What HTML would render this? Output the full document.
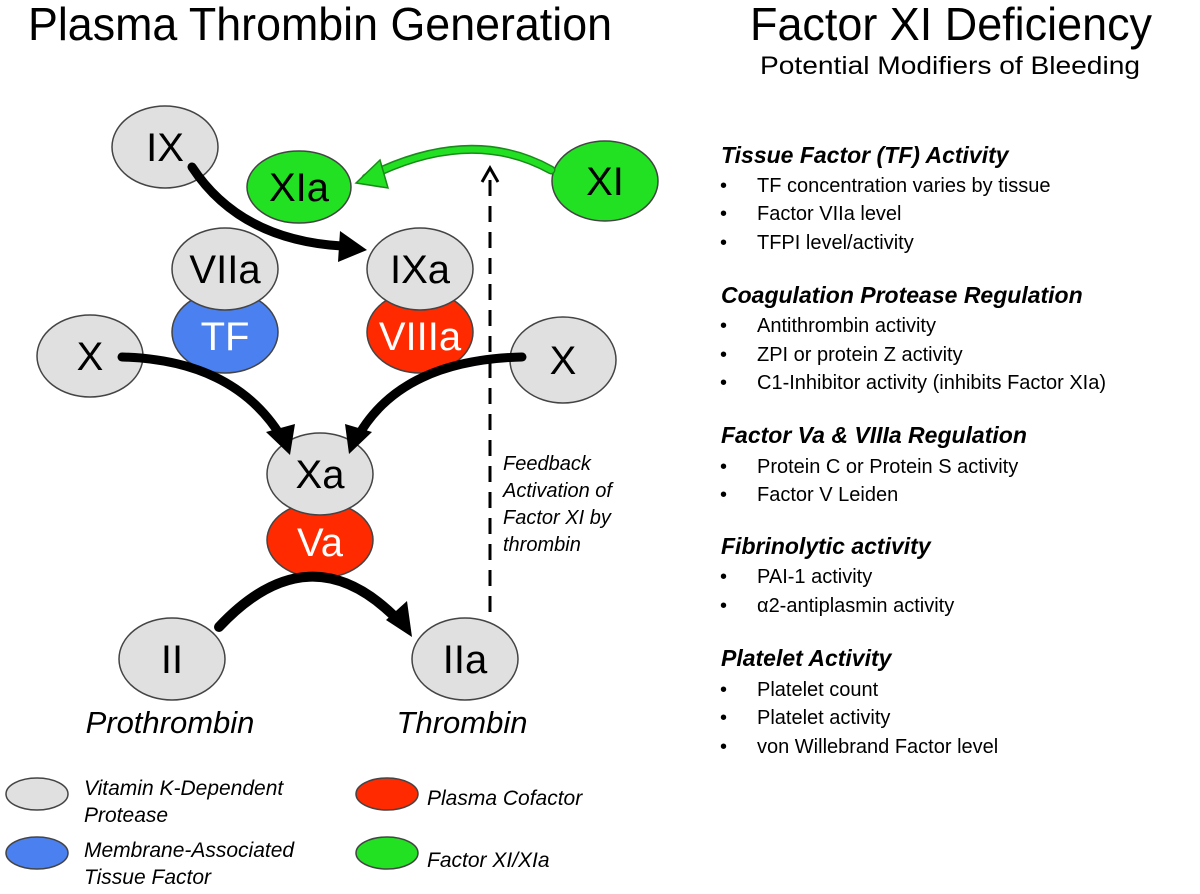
<!DOCTYPE html>
<html><head><meta charset="utf-8"><style>
html,body{margin:0;padding:0;background:#fff;}
svg{display:block;font-family:"Liberation Sans Narrow","Liberation Sans",sans-serif;}
.n{font-size:40px;text-anchor:middle;}
.r{font-family:"Liberation Sans",sans-serif;font-size:20px;}
.h{font-family:"Liberation Sans",sans-serif;font-size:23px;font-weight:bold;font-style:italic;}
.i{font-style:italic;}
</style></head><body>
<svg width="1200" height="894" viewBox="0 0 1200 894" xmlns="http://www.w3.org/2000/svg">
<text x="28" y="40" font-size="46" textLength="584" lengthAdjust="spacingAndGlyphs">Plasma Thrombin Generation</text>
<text x="750" y="40" font-size="46" textLength="402" lengthAdjust="spacingAndGlyphs">Factor XI Deficiency</text>
<text x="760" y="74" font-size="25" textLength="380" lengthAdjust="spacingAndGlyphs">Potential Modifiers of Bleeding</text>

<g stroke="#444" stroke-width="1.5">
<ellipse cx="165" cy="147" rx="53" ry="41" fill="#e0e0e0"/>
<ellipse cx="299" cy="187" rx="52" ry="36" fill="#22e022"/>
<ellipse cx="605" cy="181" rx="53" ry="40" fill="#22e022"/>
<ellipse cx="225" cy="332" rx="53" ry="41" fill="#4a80f0"/>
<ellipse cx="225" cy="269" rx="53" ry="41" fill="#e0e0e0"/>
<ellipse cx="420" cy="332" rx="53" ry="41" fill="#ff2a00"/>
<ellipse cx="420" cy="269" rx="53" ry="41" fill="#e0e0e0"/>
<ellipse cx="90" cy="356" rx="53" ry="41" fill="#e0e0e0"/>
<ellipse cx="563" cy="360" rx="53" ry="43" fill="#e0e0e0"/>
<ellipse cx="320" cy="540" rx="53" ry="38" fill="#ff2a00"/>
<ellipse cx="320" cy="474" rx="53" ry="41" fill="#e0e0e0"/>
<ellipse cx="172" cy="659" rx="53" ry="41" fill="#e0e0e0"/>
<ellipse cx="465" cy="659" rx="53" ry="41" fill="#e0e0e0"/>
</g>

<!-- arrows -->
<g fill="none" stroke="#000" stroke-linecap="round">
<path d="M192 167 Q 240 240 342 246" stroke-width="9"/>
<path d="M122 357 Q 235 360 282 438" stroke-width="9"/>
<path d="M522 357 Q 400 360 357 438" stroke-width="9"/>
<path d="M219 627 Q 310 530 398 620" stroke-width="10"/>
</g>
<g fill="#000">
<polygon points="367,250 340,231 338,262"/>
<polygon points="290,455 266,432 295,424"/>
<polygon points="349,454 345,424 372,432"/>
<polygon points="412,637 386,620 407,601"/>
</g>
<path d="M551 170 Q 470 125 366 178" fill="none" stroke="#1a8a1a" stroke-width="9" stroke-linecap="round"/>
<path d="M551 170 Q 470 125 366 178" fill="none" stroke="#22e022" stroke-width="6" stroke-linecap="round"/>
<polygon points="356,183 380,160 388,188" fill="#22e022" stroke="#1a8a1a" stroke-width="1.5"/>

<line x1="490" y1="612" x2="490" y2="172" stroke="#000" stroke-width="3" stroke-dasharray="16,10"/>
<polyline points="482,182 490,168 498,182" fill="none" stroke="#000" stroke-width="3"/>

<g class="n">
<text x="165" y="161">IX</text>
<text x="299" y="201">XIa</text>
<text x="605" y="195">XI</text>
<text x="225" y="283">VIIa</text>
<text x="225" y="350" fill="#fff">TF</text>
<text x="420" y="283">IXa</text>
<text x="420" y="350" fill="#fff">VIIIa</text>
<text x="90" y="370">X</text>
<text x="563" y="374">X</text>
<text x="320" y="488">Xa</text>
<text x="320" y="556" fill="#fff">Va</text>
<text x="172" y="673">II</text>
<text x="465" y="673">IIa</text>
</g>
<text x="170" y="733" font-size="31" class="i" text-anchor="middle">Prothrombin</text>
<text x="462" y="733" font-size="31" class="i" text-anchor="middle">Thrombin</text>

<g font-size="20" class="i">
<text x="503" y="470">Feedback</text>
<text x="503" y="497">Activation of</text>
<text x="503" y="524">Factor XI by</text>
<text x="503" y="551">thrombin</text>
</g>

<g stroke="#444" stroke-width="1.5">
<ellipse cx="37" cy="794" rx="31" ry="16" fill="#e0e0e0"/>
<ellipse cx="37" cy="853" rx="31" ry="16" fill="#4a80f0"/>
<ellipse cx="387" cy="794" rx="31" ry="16" fill="#ff2a00"/>
<ellipse cx="387" cy="853" rx="31" ry="16" fill="#22e022"/>
</g>
<g font-size="21" class="i">
<text x="84" y="795">Vitamin K-Dependent</text>
<text x="84" y="822">Protease</text>
<text x="84" y="857">Membrane-Associated</text>
<text x="84" y="884">Tissue Factor</text>
<text x="427" y="805">Plasma Cofactor</text>
<text x="427" y="867">Factor XI/XIa</text>
</g>

<g>
<text class="h" x="721" y="163">Tissue Factor (TF) Activity</text>
<text class="h" x="721" y="303">Coagulation Protease Regulation</text>
<text class="h" x="721" y="443">Factor Va &amp; VIIIa Regulation</text>
<text class="h" x="721" y="554">Fibrinolytic activity</text>
<text class="h" x="721" y="666">Platelet Activity</text>
</g>
<g class="r">
<text x="720" y="192">•</text><text x="757" y="192">TF concentration varies by tissue</text>
<text x="720" y="220">•</text><text x="757" y="220">Factor VIIa level</text>
<text x="720" y="249">•</text><text x="757" y="249">TFPI level/activity</text>
<text x="720" y="332">•</text><text x="757" y="332">Antithrombin activity</text>
<text x="720" y="361">•</text><text x="757" y="361">ZPI or protein Z activity</text>
<text x="720" y="389">•</text><text x="757" y="389">C1-Inhibitor activity (inhibits Factor XIa)</text>
<text x="720" y="473">•</text><text x="757" y="473">Protein C or Protein S activity</text>
<text x="720" y="501">•</text><text x="757" y="501">Factor V Leiden</text>
<text x="720" y="583">•</text><text x="757" y="583">PAI-1 activity</text>
<text x="720" y="612">•</text><text x="757" y="612">α2-antiplasmin activity</text>
<text x="720" y="696">•</text><text x="757" y="696">Platelet count</text>
<text x="720" y="724">•</text><text x="757" y="724">Platelet activity</text>
<text x="720" y="753">•</text><text x="757" y="753">von Willebrand Factor level</text>
</g>
</svg>
</body></html>
